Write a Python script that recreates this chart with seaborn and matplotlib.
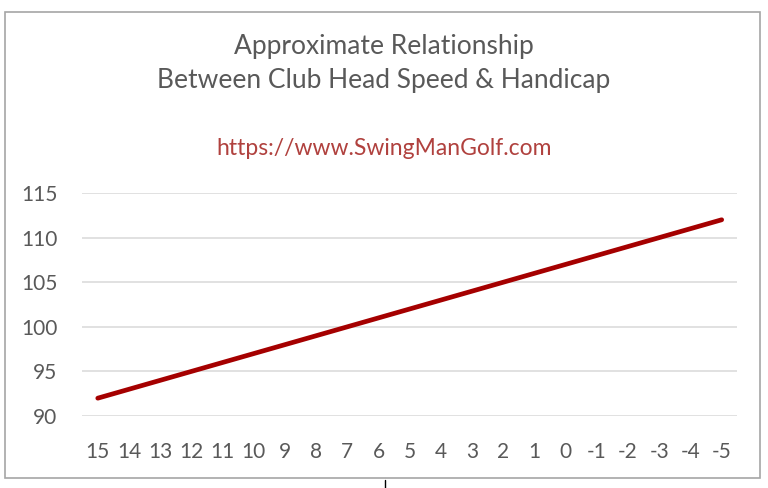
import pandas as pd
import seaborn as sns
import matplotlib.pyplot as plt
from matplotlib.patches import Rectangle
from matplotlib.lines import Line2D

# --- DATA ---
handicap = ["15", "14", "13", "12", "11", "10", "9", "8", "7", "6", "5",
            "4", "3", "2", "1", "0", "-1", "-2", "-3", "-4", "-5"]
club_speed = [92, 93, 94, 95, 96, 97, 98, 99, 100, 101, 102,
              103, 104, 105, 106, 107, 108, 109, 110, 111, 112]
y_ticks = [90, 95, 100, 105, 110, 115]

TEXT_GREY = "#595959"
LINE_RED = "#A50000"

sns.set_style("white")
plt.rcParams['font.family'] = ['Lato', 'DejaVu Sans']

df = pd.DataFrame({"Handicap": handicap, "Speed": club_speed})

fig = plt.figure(figsize=(7.68, 4.88), dpi=100)
ax = fig.add_axes([0.107, 0.1475, 0.853, 0.457])

sns.lineplot(data=df, x="Handicap", y="Speed", ax=ax, color=LINE_RED,
             linewidth=3.4, solid_capstyle="round", sort=False)

ax.set_xlim(-0.5, len(handicap) - 0.5)
ax.set_ylim(90, 115)
ax.set_yticks(y_ticks)
ax.set_xlabel("")
ax.set_ylabel("")
ax.yaxis.grid(True, color="#D9D9D9", linewidth=1.1)
ax.set_axisbelow(True)
for s in ax.spines.values():
    s.set_visible(False)
ax.tick_params(axis="both", length=0, labelsize=15, labelcolor=TEXT_GREY)
ax.tick_params(axis="y", pad=18)
ax.tick_params(axis="x", pad=19)

# titles
fig.text(0.5, 0.905, "Approximate Relationship", ha="center", va="center",
         fontsize=19, color=TEXT_GREY)
fig.text(0.5, 0.836, "Between Club Head Speed & Handicap", ha="center", va="center",
         fontsize=19, color=TEXT_GREY)
fig.text(0.5, 0.695, "https://www.SwingManGolf.com", ha="center", va="center",
         fontsize=16.5, color="#B0413E")

# outer frame like the original chart box
fig.patches.append(Rectangle((0.0065, 0.0205), 0.983, 0.955, transform=fig.transFigure,
                             fill=False, edgecolor="#A6A6A6", linewidth=1.2))
fig.lines.append(Line2D([0.5013, 0.5013], [0.0, 0.016], transform=fig.transFigure,
                        color="black", linewidth=1))

plt.savefig("out.png", dpi=100)
